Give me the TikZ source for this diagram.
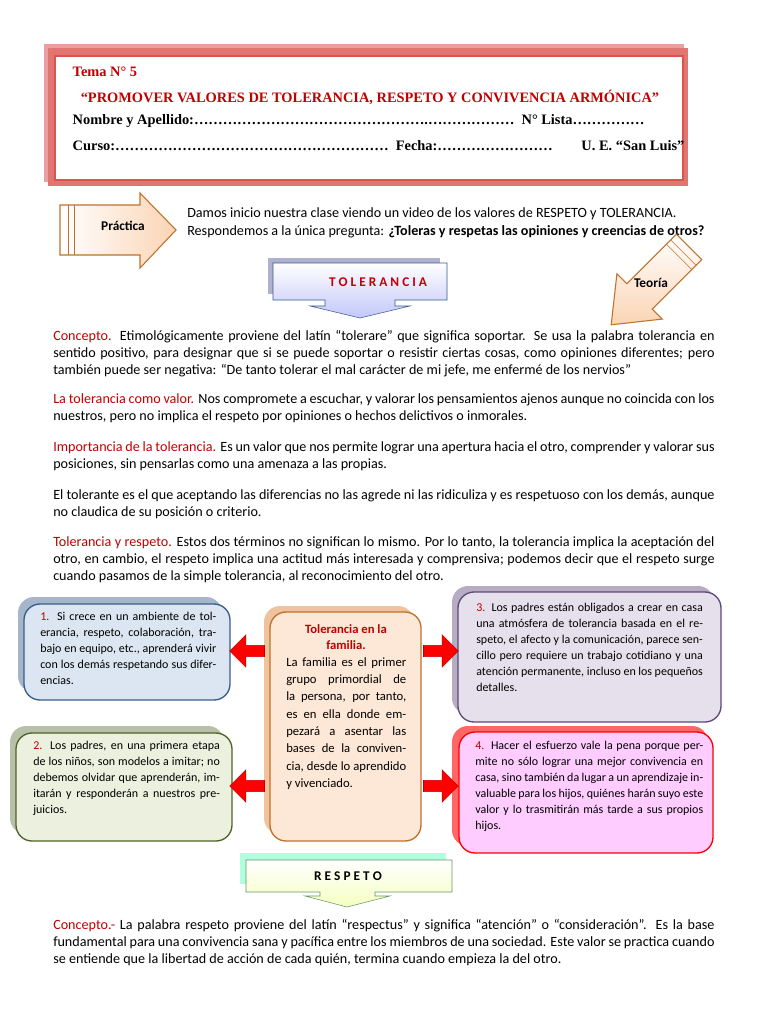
\documentclass[tikz,border=0pt]{standalone}
\usepackage{fontspec}
\setmainfont{Carlito}
\newfontfamily\serifb{Liberation Serif}
\usetikzlibrary{shapes.arrows,shadows}
\definecolor{tred}{HTML}{C00000}
\definecolor{hred}{HTML}{D9534F}
\definecolor{peach}{HTML}{FBD4B4}
\definecolor{peachdk}{HTML}{C0712A}
\definecolor{b1f}{HTML}{DCE6F2}\definecolor{b1d}{HTML}{385D8A}
\definecolor{b2f}{HTML}{EBF1DE}\definecolor{b2d}{HTML}{4F6228}
\definecolor{b3f}{HTML}{E5E0EC}\definecolor{b3d}{HTML}{5F497A}
\definecolor{b4f}{HTML}{FFCCFF}
\begin{document}
\begin{tikzpicture}[x=0.75pt,y=-0.75pt,
  para/.style={anchor=north west,text width=496pt,align=justify,inner sep=0pt,font=\fontsize{10.6}{12.8}\selectfont},
  boxtxt/.style={anchor=north west,align=justify,inner sep=0pt,font=\fontsize{9}{12}\selectfont},
  rbox/.style={rounded corners=12pt,line width=1pt},
  redarrow/.style={single arrow,fill=red,draw=tred,minimum height=26pt,minimum width=24pt,single arrow head extend=4pt,inner sep=2pt},
  hdr/.style={font=\serifb\bfseries\fontsize{10.8}{13}\selectfont}]
\useasboundingbox (0,0) rectangle (768,1024);
\fill[white] (0,0) rectangle (768,1024);
% header
\fill[hred!55] (44,44) rectangle (684,182);
\fill[hred!80] (48,48) rectangle (688,186);
\draw[hred,line width=1.2pt,fill=white] (55,56) rectangle (683,180);
\node[anchor=west,hdr,text=tred] (tema) at (68,72) {Tema N° 5};
\node[hdr,text=tred] (tit) at (370,97) {“PROMOVER VALORES DE TOLERANCIA, RESPETO Y CONVIVENCIA ARMÓNICA”};
\node[anchor=west,hdr] (nom) at (68,121) {Nombre y Apellido:………………………………………….………………\ \ N° Lista……………};
\node[anchor=west,hdr] (cur) at (68,146) {Curso:…………………………………………………\ \ Fecha:……………………\qquad U. E. “San Luis”};
% practica arrow
\shade[left color=white,right color=peach,draw=peachdk,line width=0.8pt] (60,205) -- (140,205) -- (140,193) -- (176,230) -- (140,268) -- (140,255) -- (60,255) -- cycle;
\draw[peachdk] (68,205) -- (68,255) (74,205)--(74,255);
\node[font=\bfseries\fontsize{10}{12}\selectfont] (prac) at (123,226) {Práctica};
\node[anchor=north west,inner sep=0pt,font=\fontsize{10.6}{13.6}\selectfont,align=left] (ptxt) at (187,207) {Damos inicio nuestra clase viendo un video de los valores de RESPETO y TOLERANCIA.\\Respondemos a la única pregunta: \textbf{¿Toleras y respetas las opiniones y creencias de otros?}};
% tolerancia banner
\fill[blue!25!gray!50] (268,258) rectangle (440,294);
\shade[top color=white,bottom color=b1f!70!blue!60,draw=b1d] (273,263) -- (447,263) -- (447,300) -- (395,300) -- (395,306) -- (410,306) -- (360,318) -- (310,306) -- (325,306) -- (325,300) -- (273,300) -- cycle;
\node[font=\bfseries\fontsize{10}{12}\selectfont,text=tred] (tol) at (378,282) {T O L E R A N C I A};
% teoria arrow (down-left)
\shade[top color=white,bottom color=peach,draw=peachdk,line width=0.8pt] (676.3,234.3) -- (626.8,283.8) -- (616.9,273.9) -- (611.2,324.8) -- (662.1,319.1) -- (652.2,309.2) -- (701.7,259.7) -- cycle;
\draw[peachdk] (670.6,239.9) -- (696.1,265.4) (666.4,244.2) -- (691.9,269.6);
\node[font=\bfseries\fontsize{10}{12}\selectfont] (teo) at (651,283) {Teoría};
% paragraphs
\node[para] (p1) at (53,330) {\textcolor{tred}{Concepto.} Etimológicamente proviene del latín “tolerare” que significa soportar. Se usa la palabra tolerancia en sentido positivo, para designar que si se puede soportar o resistir ciertas cosas, como opiniones diferentes; pero también puede ser negativa: “De tanto tolerar el mal carácter de mi jefe, me enfermé de los nervios”};
\node[para] (p2) at (53,393) {\textcolor{tred}{La tolerancia como valor.} Nos compromete a escuchar, y valorar los pensamientos ajenos aunque no coincida con los nuestros, pero no implica el respeto por opiniones o hechos delictivos o inmorales.};
\node[para] (p3) at (53,441) {\textcolor{tred}{Importancia de la tolerancia.} Es un valor que nos permite lograr una apertura hacia el otro, comprender y valorar sus posiciones, sin pensarlas como una amenaza a las propias.};
\node[para] (p4) at (53,489) {El tolerante es el que aceptando las diferencias no las agrede ni las ridiculiza y es respetuoso con los demás, aunque no claudica de su posición o criterio.};
\node[para] (p5) at (53,536) {\textcolor{tred}{Tolerancia y respeto.} Estos dos términos no significan lo mismo. Por lo tanto, la tolerancia implica la aceptación del otro, en cambio, el respeto implica una actitud más interesada y comprensiva; podemos decir que el respeto surge cuando pasamos de la simple tolerancia, al reconocimiento del otro.};
% boxes
\fill[rbox,b1d!45] (18,597) rectangle (222,692);
\draw[rbox,draw=b1d,fill=b1f] (24,604) rectangle (230,700);
\node[boxtxt,text width=132pt] (b1) at (40,612) {\textcolor{tred}{1.} Si crece en un ambiente de tolerancia, respeto, colaboración, trabajo en equipo, etc., aprenderá vivir con los demás respetando sus diferencias.};
\fill[rbox,peach!80!brown] (264,606) rectangle (414,834);
\draw[rbox,draw=peachdk,fill=peach!55] (270,612) rectangle (421,841);
\node[anchor=north,align=center,inner sep=0pt,text=tred,font=\bfseries\fontsize{9.5}{12.4}\selectfont] (ct) at (346,624) {Tolerancia en la\\familia.};
\node[boxtxt,text width=90pt,font=\fontsize{9.5}{13}\selectfont] (cb) at (286,657) {La familia es el primer grupo primordial de la persona, por tanto, es en ella donde empezará a asentar las bases de la convivencia, desde lo aprendido y vivenciado.};
\fill[rbox,b3d!45] (452,586) rectangle (714,714);
\draw[rbox,draw=b3d,fill=b3f] (458,592) rectangle (721,722);
\node[boxtxt,text width=170pt] (b3) at (476,603) {\textcolor{tred}{3.} Los padres están obligados a crear en casa una atmósfera de tolerancia basada en el respeto, el afecto y la comunicación, parece sencillo pero requiere un trabajo cotidiano y una atención permanente, incluso en los pequeños detalles.};
\fill[rbox,b2d!40] (10,726) rectangle (224,834);
\draw[rbox,draw=b2d,fill=b2f] (16,733) rectangle (232,841);
\node[boxtxt,text width=140pt] (b2) at (33,741) {\textcolor{tred}{2.} Los padres, en una primera etapa de los niños, son modelos a imitar; no debemos olvidar que aprenderán, imitarán y responderán a nuestros prejuicios.};
\fill[rbox,red!60] (452,726) rectangle (708,846);
\draw[rbox,draw=red,fill=b4f] (459,732) rectangle (713,853);
\node[boxtxt,text width=171pt] (b4) at (475,741) {\textcolor{tred}{4.} Hacer el esfuerzo vale la pena porque permite no sólo lograr una mejor convivencia en casa, sino también da lugar a un aprendizaje invaluable para los hijos, quiénes harán suyo este valor y lo trasmitirán más tarde a sus propios hijos.};
\node[redarrow,shape border rotate=180] (a1) at (250,651) {};
\node[redarrow,shape border rotate=180] (a2) at (250,786) {};
\node[redarrow] (a3) at (438,651) {};
\node[redarrow] (a4) at (438,786) {};
% respeto banner
\fill[green!40!cyan!30] (240,853) rectangle (446,884);
\shade[top color=white,bottom color=green!15!yellow!25,draw=green!30!black!60] (246,860) -- (452,860) -- (452,892) -- (375,892) -- (375,896) -- (390,896) -- (347,907) -- (305,896) -- (320,896) -- (320,892) -- (246,892) -- cycle;
\node[font=\bfseries\fontsize{10}{12}\selectfont] (res) at (348,876) {R E S P E T O};
\node[para] (p6) at (53,919) {\textcolor{tred}{Concepto.-} La palabra respeto proviene del latín “respectus” y significa “atención” o “consideración”. Es la base fundamental para una convivencia sana y pacífica entre los miembros de una sociedad. Este valor se practica cuando se entiende que la libertad de acción de cada quién, termina cuando empieza la del otro.};
\end{tikzpicture}
\end{document}
